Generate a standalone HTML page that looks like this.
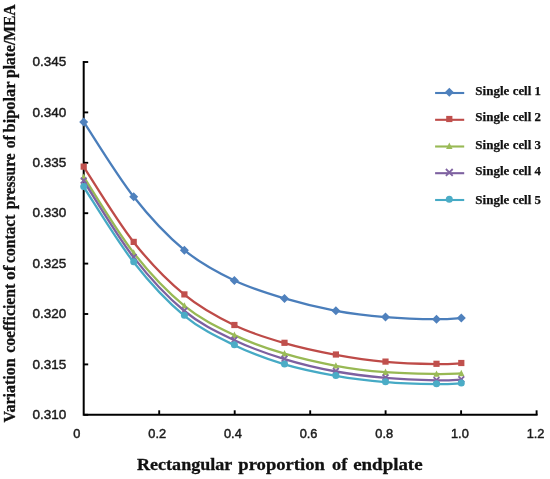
<!DOCTYPE html>
<html><head><meta charset="utf-8"><title>Chart</title>
<style>
html,body{margin:0;padding:0;background:#fff;}
svg{display:block;}
.num{font-family:"Liberation Sans",sans-serif;font-size:13.5px;fill:#1a1a1a;stroke:#1a1a1a;stroke-width:0.45px;}
.ttl{font-family:"Liberation Serif",serif;font-weight:bold;font-size:17.2px;fill:#111;stroke:#111;stroke-width:0.3px;}
.ttx{font-size:17.6px;}
.nx{font-size:12.8px;}
.leg{font-family:"Liberation Serif",serif;font-weight:bold;font-size:12.8px;fill:#111;stroke:#111;stroke-width:0.25px;}
</style></head><body>
<svg width="550" height="479" viewBox="0 0 550 479">
<rect width="550" height="479" fill="#fff"/>
<g stroke="#000" stroke-width="2" fill="none">
<path d="M83.7 61.0V414.8H537.6"/>
</g><g stroke="#000" stroke-width="1.9" fill="none">
<path d="M83.7 62.0h4.5"/>
<path d="M83.7 112.4h4.5"/>
<path d="M83.7 162.8h4.5"/>
<path d="M83.7 213.2h4.5"/>
<path d="M83.7 263.6h4.5"/>
<path d="M83.7 314.0h4.5"/>
<path d="M83.7 364.4h4.5"/>
<path d="M83.7 414.8h4.5"/>
<path d="M159.2 414.8v-4.5"/>
<path d="M234.7 414.8v-4.5"/>
<path d="M310.2 414.8v-4.5"/>
<path d="M385.6 414.8v-4.5"/>
<path d="M461.1 414.8v-4.5"/>
<path d="M536.6 414.8v-4.5"/>
</g>
<text class="num" x="66.3" y="66.2" text-anchor="end">0.345</text>
<text class="num" x="66.3" y="116.6" text-anchor="end">0.340</text>
<text class="num" x="66.3" y="167.0" text-anchor="end">0.335</text>
<text class="num" x="66.3" y="217.4" text-anchor="end">0.330</text>
<text class="num" x="66.3" y="267.8" text-anchor="end">0.325</text>
<text class="num" x="66.3" y="318.2" text-anchor="end">0.320</text>
<text class="num" x="66.3" y="368.6" text-anchor="end">0.315</text>
<text class="num" x="66.3" y="419.0" text-anchor="end">0.310</text>
<text class="num nx" x="76.7" y="438.3" text-anchor="middle">0</text>
<text class="num nx" x="157.2" y="438.3" text-anchor="middle">0.2</text>
<text class="num nx" x="232.9" y="438.3" text-anchor="middle">0.4</text>
<text class="num nx" x="308.6" y="438.3" text-anchor="middle">0.6</text>
<text class="num nx" x="384.2" y="438.3" text-anchor="middle">0.8</text>
<text class="num nx" x="459.9" y="438.3" text-anchor="middle">1.0</text>
<text class="num nx" x="535.6" y="438.3" text-anchor="middle">1.2</text>
<text class="ttl" transform="translate(15.4 422.6) rotate(-90)">
<tspan x="0.00" textLength="64.10" lengthAdjust="spacingAndGlyphs">Variation</tspan> 
<tspan x="69.90" textLength="68.90" lengthAdjust="spacingAndGlyphs">coefficient</tspan> 
<tspan x="142.50" textLength="14.60" lengthAdjust="spacingAndGlyphs">of</tspan> 
<tspan x="159.70" textLength="48.30" lengthAdjust="spacingAndGlyphs">contact</tspan> 
<tspan x="213.30" textLength="55.80" lengthAdjust="spacingAndGlyphs">pressure</tspan> 
<tspan x="274.30" textLength="13.00" lengthAdjust="spacingAndGlyphs">of</tspan> 
<tspan x="290.20" textLength="50.50" lengthAdjust="spacingAndGlyphs">bipolar</tspan> 
<tspan x="344.60" textLength="73.60" lengthAdjust="spacingAndGlyphs">plate/MEA</tspan> 
</text>
<text class="ttl ttx" y="469.7">
<tspan x="137.00" textLength="95.00" lengthAdjust="spacingAndGlyphs">Rectangular</tspan> 
<tspan x="238.30" textLength="86.60" lengthAdjust="spacingAndGlyphs">proportion</tspan> 
<tspan x="332.00" textLength="15.30" lengthAdjust="spacingAndGlyphs">of</tspan> 
<tspan x="353.20" textLength="69.40" lengthAdjust="spacingAndGlyphs">endplate</tspan> 
</text>
<path d="M83.7 121.9 C92.0 134.4 116.9 175.4 133.7 196.8 C150.5 218.2 167.6 236.2 184.4 250.2 C201.2 264.2 217.7 272.5 234.4 280.5 C251.1 288.5 267.6 293.3 284.5 298.4 C301.4 303.4 319.1 307.7 335.9 310.8 C352.7 313.9 368.7 315.7 385.5 317.1 C402.3 318.5 423.9 319.1 436.5 319.2 C449.1 319.3 457.2 318.2 461.3 318.0" stroke="#4a7ebb" stroke-width="2.3" fill="none" stroke-linecap="round"/>
<path d="M83.7 117.4L88.2 121.9L83.7 126.4L79.2 121.9Z" fill="#4f81bd"/>
<path d="M133.7 192.3L138.2 196.8L133.7 201.3L129.2 196.8Z" fill="#4f81bd"/>
<path d="M184.4 245.7L188.9 250.2L184.4 254.7L179.9 250.2Z" fill="#4f81bd"/>
<path d="M234.4 276.0L238.9 280.5L234.4 285.0L229.9 280.5Z" fill="#4f81bd"/>
<path d="M284.5 293.9L289.0 298.4L284.5 302.9L280.0 298.4Z" fill="#4f81bd"/>
<path d="M335.9 306.3L340.4 310.8L335.9 315.3L331.4 310.8Z" fill="#4f81bd"/>
<path d="M385.5 312.6L390.0 317.1L385.5 321.6L381.0 317.1Z" fill="#4f81bd"/>
<path d="M436.5 314.7L441.0 319.2L436.5 323.7L432.0 319.2Z" fill="#4f81bd"/>
<path d="M461.3 313.5L465.8 318.0L461.3 322.5L456.8 318.0Z" fill="#4f81bd"/>
<path d="M83.7 166.9 C92.0 179.5 116.9 220.9 133.7 242.2 C150.5 263.5 167.6 280.8 184.4 294.7 C201.2 308.6 217.7 317.2 234.4 325.3 C251.1 333.4 267.6 338.2 284.5 343.1 C301.4 348.0 319.1 351.7 335.9 354.8 C352.7 357.9 368.7 360.3 385.5 361.9 C402.3 363.4 423.9 363.9 436.5 364.1 C449.1 364.3 457.2 363.4 461.3 363.3" stroke="#be4b48" stroke-width="2.3" fill="none" stroke-linecap="round"/>
<rect x="80.6" y="163.5" width="6.2" height="6.2" fill="#c0504d"/>
<rect x="130.6" y="238.8" width="6.2" height="6.2" fill="#c0504d"/>
<rect x="181.3" y="291.3" width="6.2" height="6.2" fill="#c0504d"/>
<rect x="231.3" y="321.9" width="6.2" height="6.2" fill="#c0504d"/>
<rect x="281.4" y="339.7" width="6.2" height="6.2" fill="#c0504d"/>
<rect x="332.8" y="351.4" width="6.2" height="6.2" fill="#c0504d"/>
<rect x="382.4" y="358.5" width="6.2" height="6.2" fill="#c0504d"/>
<rect x="433.4" y="360.7" width="6.2" height="6.2" fill="#c0504d"/>
<rect x="458.2" y="359.9" width="6.2" height="6.2" fill="#c0504d"/>
<path d="M83.7 177.0 C92.0 189.7 116.9 231.4 133.7 252.9 C150.5 274.4 167.6 292.1 184.4 305.8 C201.2 319.5 217.7 327.1 234.4 335.1 C251.1 343.1 267.6 348.6 284.5 353.7 C301.4 358.8 319.1 362.7 335.9 365.8 C352.7 368.9 368.7 370.8 385.5 372.2 C402.3 373.6 423.9 373.8 436.5 374.0 C449.1 374.2 457.2 373.5 461.3 373.4" stroke="#98b954" stroke-width="2.3" fill="none" stroke-linecap="round"/>
<path d="M83.7 173.4L86.9 179.8L80.5 179.8Z" fill="#9bbb59"/>
<path d="M133.7 249.3L136.9 255.7L130.5 255.7Z" fill="#9bbb59"/>
<path d="M184.4 302.2L187.6 308.6L181.2 308.6Z" fill="#9bbb59"/>
<path d="M234.4 331.5L237.6 337.9L231.2 337.9Z" fill="#9bbb59"/>
<path d="M284.5 350.1L287.7 356.5L281.3 356.5Z" fill="#9bbb59"/>
<path d="M335.9 362.2L339.1 368.6L332.7 368.6Z" fill="#9bbb59"/>
<path d="M385.5 368.6L388.7 375.0L382.3 375.0Z" fill="#9bbb59"/>
<path d="M436.5 370.4L439.7 376.8L433.3 376.8Z" fill="#9bbb59"/>
<path d="M461.3 369.8L464.5 376.2L458.1 376.2Z" fill="#9bbb59"/>
<path d="M83.7 181.0 C92.0 193.7 116.9 235.7 133.7 257.4 C150.5 279.1 167.6 297.2 184.4 311.0 C201.2 324.8 217.7 332.2 234.4 340.2 C251.1 348.2 267.6 353.9 284.5 359.1 C301.4 364.3 319.1 368.4 335.9 371.5 C352.7 374.6 368.7 376.4 385.5 377.9 C402.3 379.4 423.9 380.1 436.5 380.4 C449.1 380.7 457.2 379.8 461.3 379.7" stroke="#7d60a0" stroke-width="2.3" fill="none" stroke-linecap="round"/>
<path d="M80.8 177.7L86.6 183.5M80.8 183.5L86.6 177.7" stroke="#8064a2" stroke-width="1.8" fill="none"/>
<path d="M130.8 254.1L136.6 259.9M130.8 259.9L136.6 254.1" stroke="#8064a2" stroke-width="1.8" fill="none"/>
<path d="M181.5 307.7L187.3 313.5M181.5 313.5L187.3 307.7" stroke="#8064a2" stroke-width="1.8" fill="none"/>
<path d="M231.5 336.9L237.3 342.7M231.5 342.7L237.3 336.9" stroke="#8064a2" stroke-width="1.8" fill="none"/>
<path d="M281.6 355.8L287.4 361.6M281.6 361.6L287.4 355.8" stroke="#8064a2" stroke-width="1.8" fill="none"/>
<path d="M333.0 368.2L338.8 374.0M333.0 374.0L338.8 368.2" stroke="#8064a2" stroke-width="1.8" fill="none"/>
<path d="M382.6 374.6L388.4 380.4M382.6 380.4L388.4 374.6" stroke="#8064a2" stroke-width="1.8" fill="none"/>
<path d="M433.6 377.1L439.4 382.9M433.6 382.9L439.4 377.1" stroke="#8064a2" stroke-width="1.8" fill="none"/>
<path d="M458.4 376.4L464.2 382.2M458.4 382.2L464.2 376.4" stroke="#8064a2" stroke-width="1.8" fill="none"/>
<path d="M83.7 187.0 C92.0 199.6 116.9 240.8 133.7 262.3 C150.5 283.8 167.6 302.0 184.4 315.8 C201.2 329.6 217.7 337.1 234.4 345.2 C251.1 353.3 267.6 359.3 284.5 364.4 C301.4 369.5 319.1 372.9 335.9 375.9 C352.7 378.9 368.7 380.8 385.5 382.2 C402.3 383.6 423.9 384.0 436.5 384.2 C449.1 384.4 457.2 383.5 461.3 383.4" stroke="#46aac5" stroke-width="2.3" fill="none" stroke-linecap="round"/>
<circle cx="83.7" cy="186.5" r="3.5" fill="#4bacc6"/>
<circle cx="133.7" cy="261.8" r="3.5" fill="#4bacc6"/>
<circle cx="184.4" cy="315.3" r="3.5" fill="#4bacc6"/>
<circle cx="234.4" cy="344.7" r="3.5" fill="#4bacc6"/>
<circle cx="284.5" cy="363.9" r="3.5" fill="#4bacc6"/>
<circle cx="335.9" cy="375.4" r="3.5" fill="#4bacc6"/>
<circle cx="385.5" cy="381.7" r="3.5" fill="#4bacc6"/>
<circle cx="436.5" cy="383.7" r="3.5" fill="#4bacc6"/>
<circle cx="461.3" cy="382.9" r="3.5" fill="#4bacc6"/>
<path d="M435.1 93.0H464.2" stroke="#4a7ebb" stroke-width="2.1"/>
<path d="M449.3 87.7L453.8 92.2L449.3 96.7L444.8 92.2Z" fill="#4f81bd"/>
<text class="leg" y="95.0"><tspan x="475.3" textLength="34" lengthAdjust="spacingAndGlyphs">Single</tspan> <tspan x="512.7" textLength="18.6" lengthAdjust="spacingAndGlyphs">cell</tspan> <tspan x="534.6" textLength="6.4" lengthAdjust="spacingAndGlyphs">1</tspan></text>
<path d="M435.1 119.8H464.2" stroke="#be4b48" stroke-width="2.1"/>
<rect x="446.2" y="115.9" width="6.2" height="6.2" fill="#c0504d"/>
<text class="leg" y="120.9"><tspan x="475.3" textLength="34" lengthAdjust="spacingAndGlyphs">Single</tspan> <tspan x="512.7" textLength="18.6" lengthAdjust="spacingAndGlyphs">cell</tspan> <tspan x="534.6" textLength="6.4" lengthAdjust="spacingAndGlyphs">2</tspan></text>
<path d="M435.1 146.5H464.2" stroke="#98b954" stroke-width="2.1"/>
<path d="M449.3 142.5L452.5 148.9L446.1 148.9Z" fill="#9bbb59"/>
<text class="leg" y="148.7"><tspan x="475.3" textLength="34" lengthAdjust="spacingAndGlyphs">Single</tspan> <tspan x="512.7" textLength="18.6" lengthAdjust="spacingAndGlyphs">cell</tspan> <tspan x="534.6" textLength="6.4" lengthAdjust="spacingAndGlyphs">3</tspan></text>
<path d="M435.1 173.2H464.2" stroke="#7d60a0" stroke-width="2.1"/>
<path d="M445.9 169.0L452.7 175.8M445.9 175.8L452.7 169.0" stroke="#8064a2" stroke-width="1.8" fill="none"/>
<text class="leg" y="175.4"><tspan x="475.3" textLength="34" lengthAdjust="spacingAndGlyphs">Single</tspan> <tspan x="512.7" textLength="18.6" lengthAdjust="spacingAndGlyphs">cell</tspan> <tspan x="534.6" textLength="6.4" lengthAdjust="spacingAndGlyphs">4</tspan></text>
<path d="M435.1 200.0H464.2" stroke="#46aac5" stroke-width="2.1"/>
<circle cx="449.3" cy="199.2" r="3.5" fill="#4bacc6"/>
<text class="leg" y="204.1"><tspan x="475.3" textLength="34" lengthAdjust="spacingAndGlyphs">Single</tspan> <tspan x="512.7" textLength="18.6" lengthAdjust="spacingAndGlyphs">cell</tspan> <tspan x="534.6" textLength="6.4" lengthAdjust="spacingAndGlyphs">5</tspan></text>
</svg></body></html>
